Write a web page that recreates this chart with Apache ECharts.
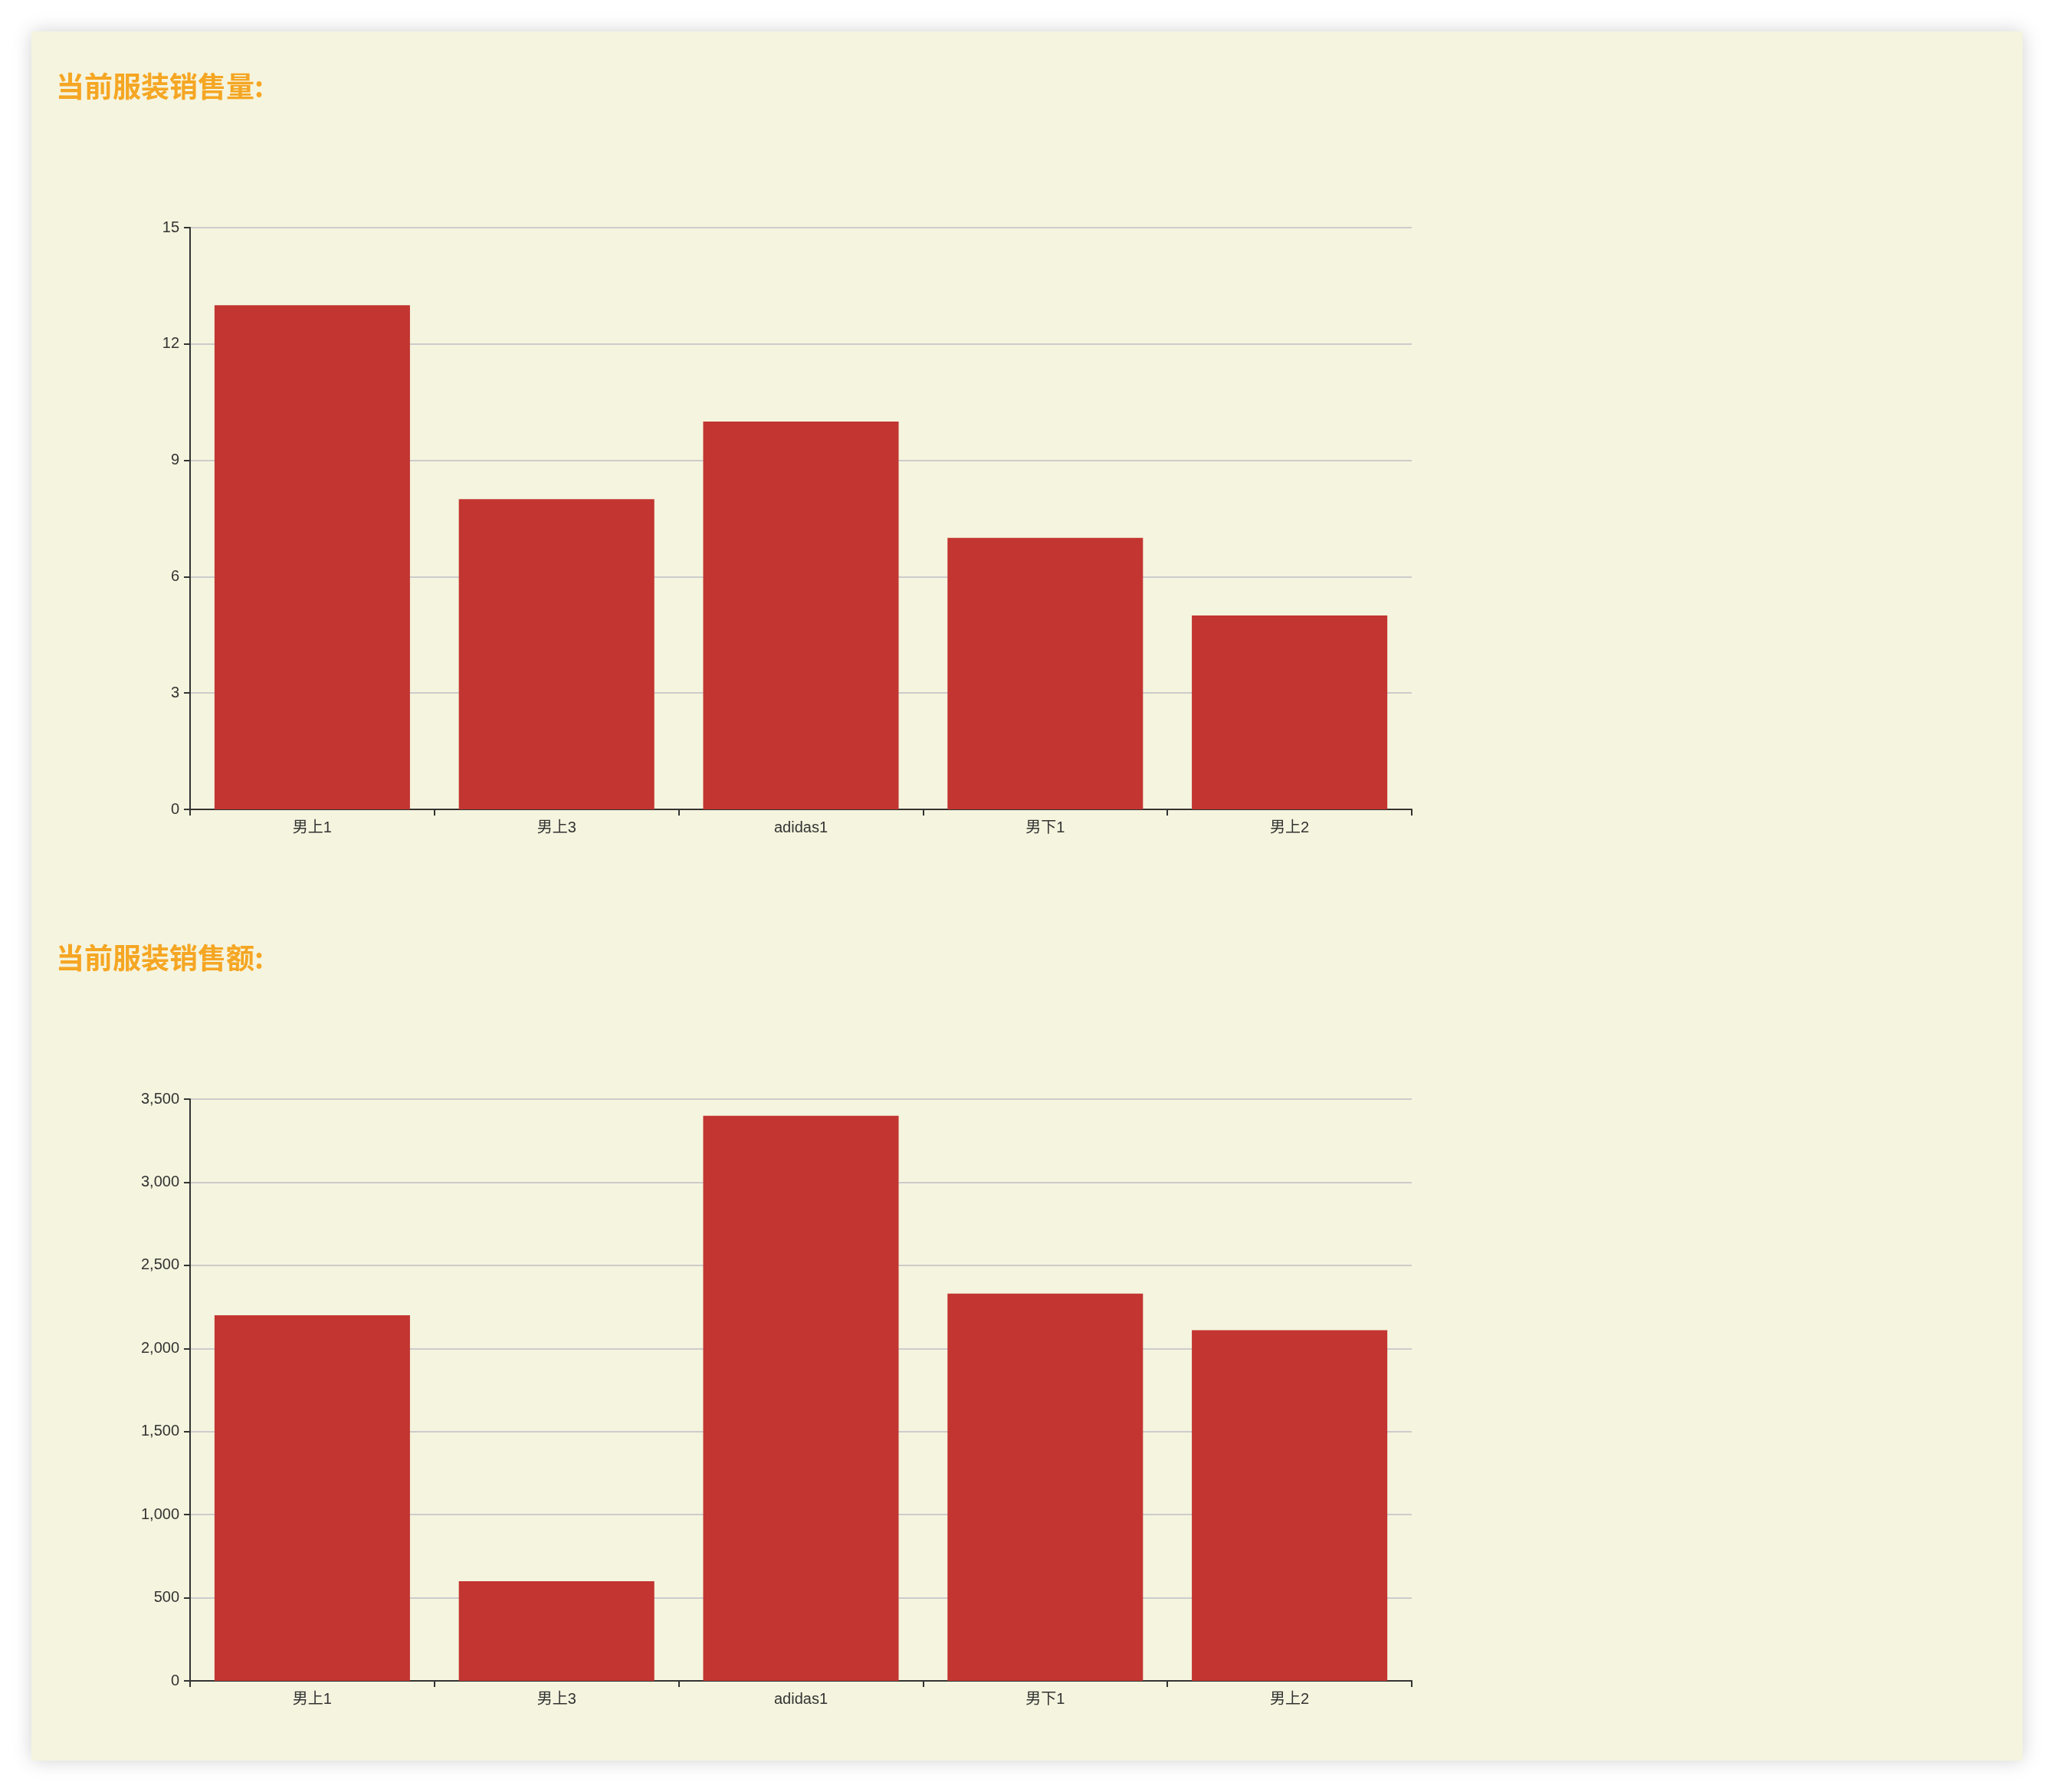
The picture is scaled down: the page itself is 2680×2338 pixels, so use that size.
<!DOCTYPE html>
<html>
<head>
<meta charset="utf-8">
<script src="https://cdn.jsdelivr.net/npm/echarts@6/dist/echarts.min.js"></script>
<style>
    html, body { margin: 0; padding: 0; background: #ffffff; }
    #panel {
        position: absolute; left: 41px; top: 41px; width: 2598px; height: 2256px;
        background: #f5f4de; box-shadow: 0 0 24px rgba(0,0,0,0.18);
    }
    #chart { width: 2598px; height: 2256px; }
</style>
</head>
<body>
<div id="panel"><div id="chart"></div></div>
<script>
// Data
var categories = ['男上1', '男上3', 'adidas1', '男下1', '男上2'];
var salesCount = [13, 8, 10, 7, 5];
var salesAmount = [2200, 600, 3400, 2330, 2110];
var titles = ['当前服装销售量:', '当前服装销售额:'];

var chart = echarts.init(document.getElementById('chart'));

var labelStyle = { color: '#333', fontSize: 20, fontFamily: 'Liberation Sans, Arial, Noto Sans CJK SC, sans-serif' };
var axisLine = { lineStyle: { color: '#333', width: 2 } };

function xAxis(i) {
    return {
        gridIndex: i, type: 'category', data: categories,
        axisLine: axisLine,
        axisTick: { show: true, length: 8, lineStyle: { color: '#333', width: 2 } },
        axisLabel: Object.assign({ margin: 14 }, labelStyle)
    };
}
function yAxis(i, max, interval) {
    return {
        gridIndex: i, type: 'value', min: 0, max: max, interval: interval,
        axisLine: Object.assign({ show: true }, axisLine),
        axisTick: { show: true, length: 8, lineStyle: { color: '#333', width: 2 } },
        axisLabel: Object.assign({ margin: 14 }, labelStyle),
        splitLine: { lineStyle: { color: '#cccccc', width: 2 } }
    };
}

chart.setOption({
    animation: false,
    title: titles.map(function (t, i) {
        return {
            text: t, left: 27, top: i === 0 ? 48 : 1185,
            textStyle: { color: '#f5a623', fontSize: 37, fontWeight: 'bold', fontFamily: 'Noto Sans CJK SC, sans-serif' }
        };
    }),
    grid: [
        { left: 207, right: 797, top: 256, height: 759 },
        { left: 207, right: 797, top: 1393, height: 759 }
    ],
    xAxis: [xAxis(0), xAxis(1)],
    yAxis: [yAxis(0, 15, 3), yAxis(1, 3500, 500)],
    series: [
        { type: 'bar', xAxisIndex: 0, yAxisIndex: 0, data: salesCount, barCategoryGap: '20%', itemStyle: { color: '#c23531' } },
        { type: 'bar', xAxisIndex: 1, yAxisIndex: 1, data: salesAmount, barCategoryGap: '20%', itemStyle: { color: '#c23531' } }
    ]
});
</script>
</body>
</html>
